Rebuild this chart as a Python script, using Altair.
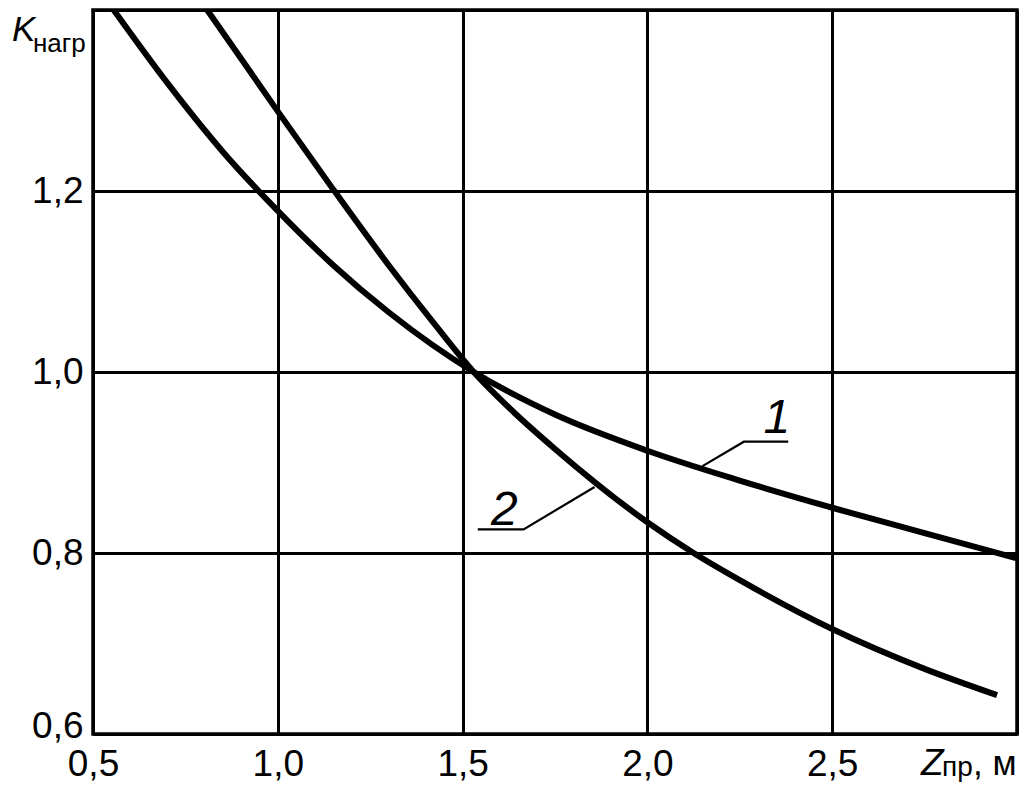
import altair as alt
import pandas as pd

# ---- data ----
x_curve1 = [0.556, 0.70, 0.85, 1.0, 1.15, 1.3, 1.53, 1.75, 2.0, 2.25, 2.5, 2.75, 3.0]
y_curve1 = [1.400, 1.320, 1.244, 1.178, 1.118, 1.066, 1.000, 0.953, 0.913, 0.880, 0.850, 0.822, 0.794]

x_curve2 = [0.809, 1.0, 1.146, 1.3, 1.42, 1.53, 1.64, 1.75, 2.0, 2.125, 2.25, 2.5, 2.75, 2.946]
y_curve2 = [1.400, 1.288, 1.204, 1.118, 1.055, 1.000, 0.955, 0.915, 0.834, 0.800, 0.770, 0.716, 0.672, 0.643]

x_ticks = [0.5, 1.0, 1.5, 2.0, 2.5, 3.0]
y_ticks = [0.6, 0.8, 1.0, 1.2, 1.4]

curve_names = ["1", "2"]
label_x = [2.314, 1.577]
label_y = [0.933, 0.831]

leader1_x = [2.149, 2.261, 2.381]
leader1_y = [0.896, 0.923, 0.923]
leader2_x = [1.541, 1.665, 1.857]
leader2_y = [0.826, 0.826, 0.873]

# ---- tables ----
curves = pd.concat([
    pd.DataFrame({"x": x_curve1, "y": y_curve1, "s": curve_names[0], "o": range(len(x_curve1))}),
    pd.DataFrame({"x": x_curve2, "y": y_curve2, "s": curve_names[1], "o": range(len(x_curve2))}),
])
labels = pd.DataFrame({"x": label_x, "y": label_y, "t": curve_names})
leaders = pd.concat([
    pd.DataFrame({"x": leader1_x, "y": leader1_y, "s": "1", "o": range(3)}),
    pd.DataFrame({"x": leader2_x, "y": leader2_y, "s": "2", "o": range(3)}),
])

FONT = "Liberation Sans"

x_enc = alt.X("x:Q", scale=alt.Scale(domain=[0.5, 3.0], nice=False, zero=False),
              axis=alt.Axis(values=x_ticks, title=None, grid=True, gridColor="black",
                            gridWidth=3, gridOpacity=1, domain=False, ticks=False,
                            labelFont=FONT, labelFontSize=37, labelColor="black",
                            labelPadding=12, labelFlush=False,
                            labelExpr="datum.value > 2.9 ? '' : replace(format(datum.value, '.1f'), '.', ',')"))
y_enc = alt.Y("y:Q", scale=alt.Scale(domain=[0.6, 1.4], nice=False, zero=False),
              axis=alt.Axis(values=y_ticks, title=None, grid=True, gridColor="black",
                            gridWidth=3, gridOpacity=1, domain=False, ticks=False,
                            labelFont=FONT, labelFontSize=37, labelColor="black",
                            labelPadding=10, labelFlush=False,
                            labelOffset={"condition": {"test": "datum.value < 0.65", "value": -8}, "value": 0},
                            labelExpr="datum.value > 1.3 ? '' : replace(format(datum.value, '.1f'), '.', ',')"))

lines = alt.Chart(curves).mark_line(color="black", strokeWidth=6, interpolate="monotone", clip=True).encode(
    x=x_enc, y=y_enc, detail="s:N", order="o:Q")

lead = alt.Chart(leaders).mark_line(color="black", strokeWidth=2.2).encode(
    x=x_enc, y=y_enc, detail="s:N", order="o:Q")

nums = alt.Chart(labels).mark_text(font=FONT, fontSize=48, fontStyle="italic", align="left",
                                   baseline="alphabetic", color="black").encode(
    x=x_enc, y=y_enc, text="t:N")

ann = pd.DataFrame({"t": ["K"]})
k_title = alt.Chart(ann).mark_text(font=FONT, fontSize=35, fontStyle="italic", align="left",
                                   baseline="alphabetic", color="black").encode(
    x=alt.value(-81), y=alt.value(31), text=alt.value("K"))
k_sub = alt.Chart(ann).mark_text(font=FONT, fontSize=26, align="left",
                                 baseline="alphabetic", color="black").encode(
    x=alt.value(-60), y=alt.value(42), text=alt.value("нагр"))
z_title = alt.Chart(ann).mark_text(font=FONT, fontSize=37, fontStyle="italic", align="left",
                                   baseline="alphabetic", color="black").encode(
    x=alt.value(828), y=alt.value(765), text=alt.value("Z"))
z_sub = alt.Chart(ann).mark_text(font=FONT, fontSize=28, align="left",
                                 baseline="alphabetic", color="black").encode(
    x=alt.value(849), y=alt.value(766), text=alt.value("пр"))
z_unit = alt.Chart(ann).mark_text(font=FONT, fontSize=35, align="left",
                                  baseline="alphabetic", color="black").encode(
    x=alt.value(880), y=alt.value(765), text=alt.value(", м"))

chart = alt.layer(lines, lead, nums, k_title, k_sub, z_title, z_sub, z_unit).properties(
    width=924, height=724, autosize="none",
    padding={"left": 85, "top": 2, "right": 3, "bottom": 50},
    background="white",
).configure_view(stroke="black", strokeWidth=3.5)

chart.save("out.html", embed_options={"renderer": "svg", "actions": False})
